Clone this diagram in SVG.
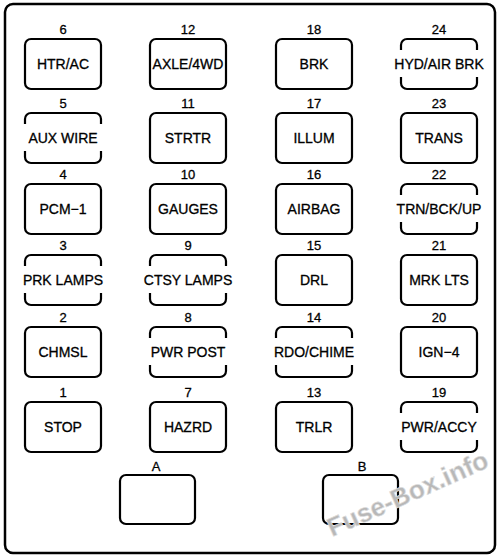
<svg xmlns="http://www.w3.org/2000/svg" xmlns:xlink="http://www.w3.org/1999/xlink" width="500" height="559" viewBox="0 0 500 559">
<style>
.bx{fill:#fff;stroke:#000;stroke-width:2.2}
.br{fill:none;stroke:#000;stroke-width:2.2}
.lb{font-family:"Liberation Sans",Arial,sans-serif;font-size:14px;text-anchor:middle;fill:#000;stroke:#000;stroke-width:0.3}
.nm{font-family:"Liberation Sans",Arial,sans-serif;font-size:13px;text-anchor:middle;fill:#000;stroke:#000;stroke-width:0.3}
.wm{font-family:"Liberation Sans",Arial,sans-serif;font-size:26px;font-weight:bold;fill:#b8b8b8;stroke:#e0e0e0;stroke-width:0.6}
</style>
<defs>
<rect id="full" class="bx" x="0" y="0" width="76" height="50" rx="6"/>
<path id="brk" class="br" d="M0,11 V6 A6,6 0 0 1 6,0 H70 A6,6 0 0 1 76,6 V11 M0,38 V44 A6,6 0 0 0 6,50 H70 A6,6 0 0 0 76,44 V38"/>
<rect id="relay" class="bx" x="0" y="0" width="75" height="49" rx="6"/>
</defs>
<rect width="500" height="559" fill="#fff"/>
<g id="frame"><rect x="5" y="4" width="490" height="549" rx="8" fill="none" stroke="#000" stroke-width="2.5"/></g>

<g id="f6"><text class="nm" x="63" y="34">6</text><use href="#full" x="25" y="39"/><text class="lb" x="63" y="69">HTR/AC</text></g>
<g id="f5"><text class="nm" x="63" y="108">5</text><use href="#brk" x="25" y="113"/><text class="lb" x="63" y="143">AUX WIRE</text></g>
<g id="f4"><text class="nm" x="63" y="179">4</text><use href="#full" x="25" y="184"/><text class="lb" x="63" y="214">PCM−1</text></g>
<g id="f3"><text class="nm" x="63" y="250">3</text><use href="#brk" x="25" y="255"/><text class="lb" x="63" y="285">PRK LAMPS</text></g>
<g id="f2"><text class="nm" x="63" y="322">2</text><use href="#full" x="25" y="327"/><text class="lb" x="63" y="357">CHMSL</text></g>
<g id="f1"><text class="nm" x="63" y="397">1</text><use href="#full" x="25" y="402"/><text class="lb" x="63" y="432">STOP</text></g>

<g id="f12"><text class="nm" x="188" y="34">12</text><use href="#full" x="150" y="39"/><text class="lb" x="188" y="69">AXLE/4WD</text></g>
<g id="f11"><text class="nm" x="188" y="108">11</text><use href="#full" x="150" y="113"/><text class="lb" x="188" y="143">STRTR</text></g>
<g id="f10"><text class="nm" x="188" y="179">10</text><use href="#full" x="150" y="184"/><text class="lb" x="188" y="214">GAUGES</text></g>
<g id="f9"><text class="nm" x="188" y="250">9</text><use href="#brk" x="150" y="255"/><text class="lb" x="188" y="285">CTSY LAMPS</text></g>
<g id="f8"><text class="nm" x="188" y="322">8</text><use href="#brk" x="150" y="327"/><text class="lb" x="188" y="357">PWR POST</text></g>
<g id="f7"><text class="nm" x="188" y="397">7</text><use href="#full" x="150" y="402"/><text class="lb" x="188" y="432">HAZRD</text></g>

<g id="f18"><text class="nm" x="314" y="34">18</text><use href="#full" x="276" y="39"/><text class="lb" x="314" y="69">BRK</text></g>
<g id="f17"><text class="nm" x="314" y="108">17</text><use href="#full" x="276" y="113"/><text class="lb" x="314" y="143">ILLUM</text></g>
<g id="f16"><text class="nm" x="314" y="179">16</text><use href="#full" x="276" y="184"/><text class="lb" x="314" y="214">AIRBAG</text></g>
<g id="f15"><text class="nm" x="314" y="250">15</text><use href="#full" x="276" y="255"/><text class="lb" x="314" y="285">DRL</text></g>
<g id="f14"><text class="nm" x="314" y="322">14</text><use href="#brk" x="276" y="327"/><text class="lb" x="314" y="357">RDO/CHIME</text></g>
<g id="f13"><text class="nm" x="314" y="397">13</text><use href="#full" x="276" y="402"/><text class="lb" x="314" y="432">TRLR</text></g>

<g id="f24"><text class="nm" x="439" y="34">24</text><use href="#brk" x="401" y="39"/><text class="lb" x="439" y="69">HYD/AIR BRK</text></g>
<g id="f23"><text class="nm" x="439" y="108">23</text><use href="#full" x="401" y="113"/><text class="lb" x="439" y="143">TRANS</text></g>
<g id="f22"><text class="nm" x="439" y="179">22</text><use href="#brk" x="401" y="184"/><text class="lb" x="439" y="214">TRN/BCK/UP</text></g>
<g id="f21"><text class="nm" x="439" y="250">21</text><use href="#full" x="401" y="255"/><text class="lb" x="439" y="285">MRK LTS</text></g>
<g id="f20"><text class="nm" x="439" y="322">20</text><use href="#full" x="401" y="327"/><text class="lb" x="439" y="357">IGN−4</text></g>
<g id="f19"><text class="nm" x="439" y="397">19</text><use href="#brk" x="401" y="402"/><text class="lb" x="439" y="432">PWR/ACCY</text></g>

<g id="relayA"><text class="nm" x="156" y="471">A</text><use href="#relay" x="120" y="475"/></g>
<g id="relayB"><text class="nm" x="362" y="471">B</text><use href="#relay" x="323" y="475"/></g>

<g id="watermark"><text class="wm" x="332" y="537" transform="rotate(-24 332 537)">Fuse-Box.info</text></g>
</svg>
